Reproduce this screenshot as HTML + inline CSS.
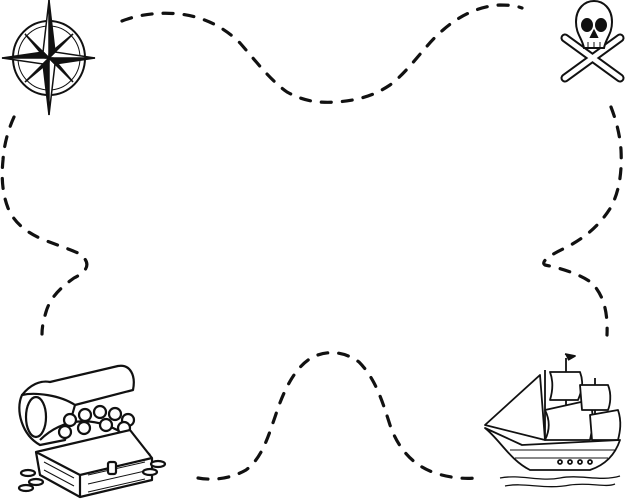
<!DOCTYPE html>
<html><head><style>html,body{margin:0;padding:0;background:#fff}svg{display:block}</style></head>
<body>
<svg width="626" height="500" viewBox="0 0 626 500" xmlns="http://www.w3.org/2000/svg">
<g fill="none" stroke="#111" stroke-width="3.2" stroke-dasharray="10 11" stroke-linecap="round">
<path d="M122,21 C140,14 160,12 180,14 C205,17 225,28 240,43 C255,60 270,80 287,92 C305,102 320,103 337,102 C360,100 375,95 390,85 C410,70 425,45 443,30 C460,15 480,6 500,5 C510,5 517,6 522,8"/>
<path d="M14,117 C8,130 4,145 3,160 C1,180 3,195 8,208 C14,222 25,232 44,240 C60,246 72,250 80,254 C90,262 90,270 74,278 C60,288 50,298 46,312 C43,322 42,328 42,334"/>
<path d="M611,107 C616,120 620,135 621,150 C622,170 620,190 611,207 C600,225 585,238 565,248 C550,255 540,262 545,265 C560,268 580,274 592,283 C603,295 608,310 607,335"/>
<path d="M198,478 C215,481 232,478 246,470 C262,458 268,437 275,417 C283,392 295,365 315,356 C330,350 345,352 359,362 C375,378 382,400 390,425 C398,448 412,465 435,473 C450,478 465,479 476,478"/>
</g>
<g transform="translate(49,58)" stroke="#111" stroke-width="1.5">
<ellipse cx="0" cy="0" rx="36" ry="37" fill="#fff" stroke-width="2"/>
<ellipse cx="0" cy="0" rx="31" ry="32" fill="none" stroke-width="1"/>
<polygon points="0,-58 6,-6 0,0" fill="#111"/><polygon points="0,-58 -6,-6 0,0" fill="#fff"/>
<polygon points="0,57 -6,6 0,0" fill="#111"/><polygon points="0,57 6,6 0,0" fill="#fff"/>
<polygon points="-47,0 -6,-6 0,0" fill="#111"/><polygon points="-47,0 -6,6 0,0" fill="#fff"/>
<polygon points="46,0 6,6 0,0" fill="#111"/><polygon points="46,0 6,-6 0,0" fill="#fff"/>
<polygon points="-24,-24 -4,0 0,0" fill="#111"/><polygon points="24,-24 0,-4 0,0" fill="#111"/>
<polygon points="-24,24 0,4 0,0" fill="#111"/><polygon points="24,24 4,0 0,0" fill="#111"/>
</g>
<g stroke="#111" stroke-width="2" fill="#fff">
<path d="M565,38 L620,78 M620,38 L565,78" stroke-width="9" stroke-linecap="round"/>
<path d="M565,38 L620,78 M620,38 L565,78" stroke="#fff" stroke-width="5" stroke-linecap="round"/>
<path d="M576,22 C576,-6 612,-6 612,22 C612,34 606,38 604,48 L584,48 C582,38 576,34 576,22Z"/>
<ellipse cx="587" cy="25" rx="5" ry="6" fill="#111"/><ellipse cx="601" cy="25" rx="5" ry="6" fill="#111"/>
<path d="M594,31 L591,37 L597,37Z" fill="#111"/>
<path d="M588,42 L588,48 M594,42 L594,48 M600,42 L600,48" stroke-width="1"/>
</g>
<g stroke="#111" stroke-width="2.2" fill="#fff" stroke-linejoin="round">
<path d="M22,395 C30,385 40,380 50,382 L118,366 C130,364 136,375 133,390 L75,405"/>
<path d="M22,395 C15,410 22,435 40,445 L65,440 L75,405 C60,395 35,392 22,395Z"/>
<ellipse cx="36" cy="417" rx="10" ry="20" fill="#fff"/>
<path d="M40,440 C60,420 100,405 150,455" fill="none"/>
<circle cx="70" cy="420" r="6"/><circle cx="85" cy="415" r="6"/><circle cx="100" cy="412" r="6"/><circle cx="115" cy="414" r="6"/><circle cx="128" cy="420" r="6"/>
<circle cx="65" cy="432" r="6"/><circle cx="84" cy="428" r="6"/><circle cx="106" cy="425" r="6"/><circle cx="124" cy="428" r="6"/>
<path d="M36,452 L130,430 L152,458 L152,480 L80,497 L40,475Z"/>
<path d="M36,452 L80,475 L152,458 M80,475 L80,497"/>
<path d="M44,462 L74,478 M44,470 L74,486 M88,475 L145,462 M88,484 L145,471 M88,492 L145,479" stroke-width="1"/>
<rect x="108" y="462" width="8" height="12" rx="2"/>
<ellipse cx="28" cy="473" rx="7" ry="3"/><ellipse cx="36" cy="482" rx="7" ry="3"/><ellipse cx="26" cy="488" rx="7" ry="3"/>
<ellipse cx="158" cy="464" rx="7" ry="3"/><ellipse cx="150" cy="472" rx="7" ry="3"/>
</g>
<g stroke="#111" stroke-width="1.8" fill="#fff" stroke-linejoin="round">
<path d="M566,358 L566,440 M595,378 L595,440 M545,370 L545,440"/>
<path d="M565,354 L575,356 L568,360" fill="#111"/>
<path d="M485,425 L540,375 L545,440Z"/>
<path d="M550,372 L580,372 C585,385 580,395 578,400 L550,400 C553,390 553,380 550,372Z"/>
<path d="M545,410 L590,400 C595,420 592,430 590,440 L545,440 C550,430 550,420 545,410Z"/>
<path d="M580,385 L608,385 C612,395 610,405 608,410 L582,410Z"/>
<path d="M590,415 L618,410 C622,422 620,432 618,440 L592,440Z"/>
<path d="M485,428 C500,440 510,460 530,470 L590,470 C605,465 615,455 620,440 L522,445 Z"/>
<path d="M510,450 L615,450 M515,458 L608,458" fill="none" stroke-width="1"/>
<circle cx="560" cy="462" r="2"/><circle cx="570" cy="462" r="2"/><circle cx="580" cy="462" r="2"/><circle cx="590" cy="462" r="2"/>
<path d="M500,478 C520,474 540,482 560,478 C580,474 600,482 620,476 M505,486 C525,482 545,490 570,485 C590,482 605,488 615,484" fill="none" stroke-width="1.3"/>
</g>
</svg>
</body></html>
